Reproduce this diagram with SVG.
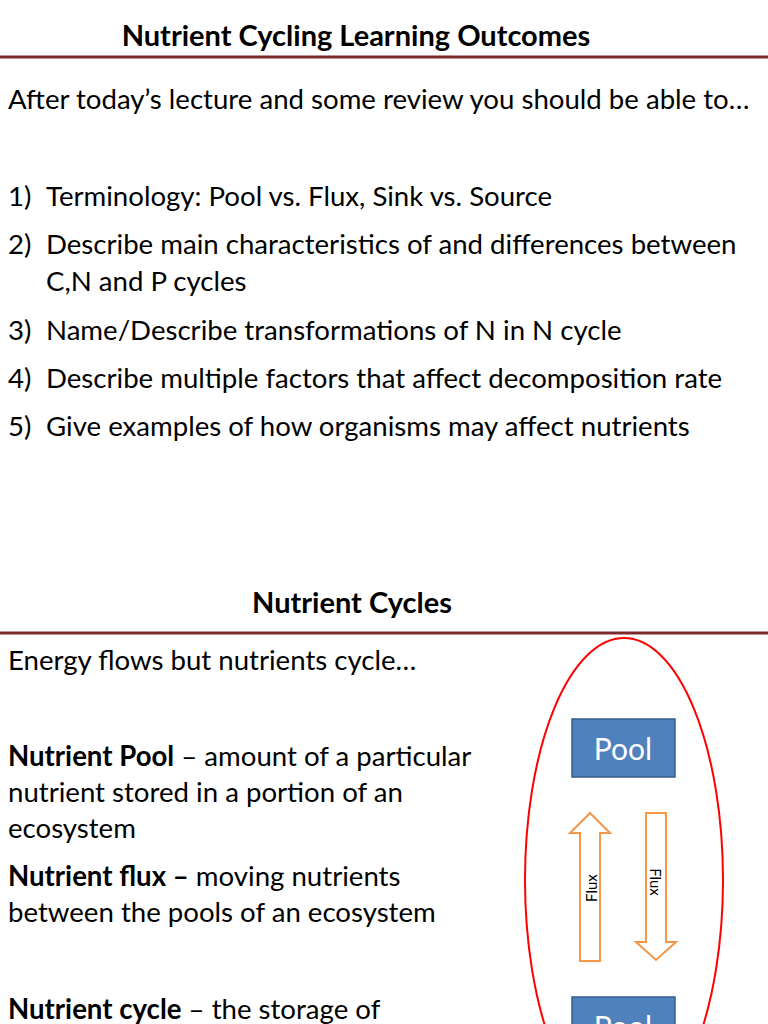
<svg xmlns="http://www.w3.org/2000/svg" width="768" height="1024" viewBox="0 0 768 1024">
<style>
text{font-family:Lato,"Open Sans",sans-serif;fill:#000}
.b{font-size:27.6px}
.h{font-size:29px;font-weight:bold}
.rule{stroke:#7a2a2a;stroke-width:3}
.arr{fill:#fff;stroke:#f79646;stroke-width:2}
.pool{fill:#4f81bd;stroke:#385d8a;stroke-width:1.5}
</style>
<rect width="768" height="1024" fill="#fff"/>
<g id="top">
<text class="h" x="356" y="46" text-anchor="middle">Nutrient Cycling Learning Outcomes</text>
<line class="rule" x1="0" y1="57" x2="768" y2="57"/>
<text class="b" x="8" y="109">After today’s lecture and some review you should be able to…</text>
<text class="b" x="8" y="206">1)</text><text class="b" x="46" y="206">Terminology: Pool vs. Flux, Sink vs. Source</text>
<text class="b" x="8" y="254">2)</text><text class="b" x="46" y="254">Describe main characteristics of and differences between</text>
<text class="b" x="46" y="291">C,N and P cycles</text>
<text class="b" x="8" y="340">3)</text><text class="b" x="46" y="340">Name/Describe transformations of N in N cycle</text>
<text class="b" x="8" y="388">4)</text><text class="b" x="46" y="388">Describe multiple factors that affect decomposition rate</text>
<text class="b" x="8" y="436">5)</text><text class="b" x="46" y="436">Give examples of how organisms may affect nutrients</text>
</g>
<g id="bottom">
<text class="h" x="352" y="613" text-anchor="middle">Nutrient Cycles</text>
<line class="rule" x1="0" y1="633" x2="768" y2="633"/>
<text class="b" x="8" y="670">Energy flows but nutrients cycle…</text>
<text class="b" x="8" y="766"><tspan font-weight="bold">Nutrient Pool</tspan> – amount of a particular</text>
<text class="b" x="8" y="802">nutrient stored in a portion of an</text>
<text class="b" x="8" y="838">ecosystem</text>
<text class="b" x="8" y="886"><tspan font-weight="bold">Nutrient flux –</tspan> moving nutrients</text>
<text class="b" x="8" y="922">between the pools of an ecosystem</text>
<text class="b" x="8" y="1019"><tspan font-weight="bold">Nutrient cycle</tspan> – the storage of</text>
</g>
<g id="ellipse"><ellipse cx="624" cy="880" rx="99" ry="242" fill="none" stroke="#f00" stroke-width="2"/></g>
<g id="pool1"><rect class="pool" x="572" y="719" width="103" height="58"/><text x="623" y="760" text-anchor="middle" font-size="30" style="fill:#fff">Pool</text></g>
<g id="pool2"><rect class="pool" x="572" y="997" width="103" height="58"/><text x="623" y="1038" text-anchor="middle" font-size="30" style="fill:#fff">Pool</text></g>
<g id="connectors">
<polygon class="arr" points="590,813 610,833 600,833 600,961 580,961 580,833 570,833"/>
<text x="597" y="888" font-size="15" text-anchor="middle" transform="rotate(-90 597 888)">Flux</text>
<polygon class="arr" points="646,813 666,813 666,942 676,942 656,960 636,942 646,942"/>
<text x="650" y="882" font-size="15" text-anchor="middle" transform="rotate(90 650 882)">Flux</text>
</g>
</svg>
